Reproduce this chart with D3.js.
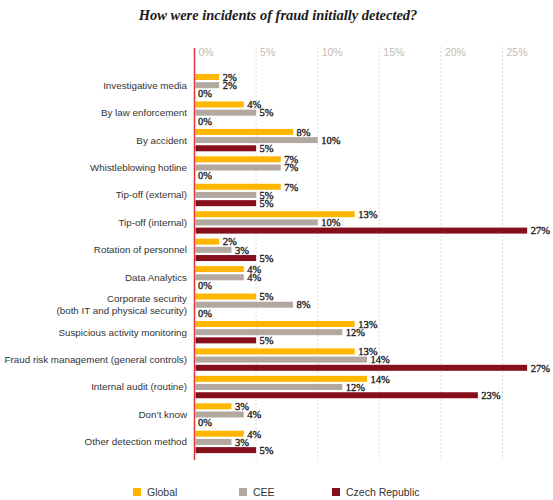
<!DOCTYPE html>
<html>
<head>
<meta charset="utf-8">
<script src="https://cdn.jsdelivr.net/npm/d3@7/dist/d3.min.js"></script>
<style>
  html, body { margin: 0; padding: 0; background: #fff; }
  svg { display: block; }
</style>
</head>
<body>
<svg id="chart" width="553" height="500"></svg>
<script>
const title = "How were incidents of fraud initially detected?";
const categories = [
  "Investigative media",
  "By law enforcement",
  "By accident",
  "Whistleblowing hotline",
  "Tip-off (external)",
  "Tip-off (internal)",
  "Rotation of personnel",
  "Data Analytics",
  "Corporate security|(both IT and physical security)",
  "Suspicious activity monitoring",
  "Fraud risk management (general controls)",
  "Internal audit (routine)",
  "Don’t know",
  "Other detection method"
];
const seriesNames = ["Global", "CEE", "Czech Republic"];
const globalValues = [2, 4, 8, 7, 7, 13, 2, 4, 5, 13, 13, 14, 3, 4];
const ceeValues    = [2, 5, 10, 7, 5, 10, 3, 4, 8, 12, 14, 12, 4, 3];
const czechValues  = [0, 0, 5, 0, 5, 27, 5, 0, 0, 5, 27, 23, 0, 5];
const tickValues = [0, 5, 10, 15, 20, 25];
const colors = ["#FFB600", "#B3A8A0", "#85101C"];

const seriesValues = [globalValues, ceeValues, czechValues];
const svg = d3.select("#chart");

const x = d3.scaleLinear().domain([0, 25]).range([194.5, 502.5]);
const y = d3.scaleBand().domain(categories).range([74, 74 + 14 * 27.44]).paddingInner(0).paddingOuter(0);
const ys = d3.scaleBand().domain(seriesNames).range([0, 22.4]).paddingInner(0.268).paddingOuter(0);

// Title
svg.append("text")
  .attr("x", 278).attr("y", 20)
  .attr("text-anchor", "middle")
  .attr("font-family", "Liberation Serif, serif")
  .attr("font-style", "italic")
  .attr("font-weight", "bold")
  .attr("font-size", 14.5)
  .attr("fill", "#1a1a1a")
  .text(title);

// Gridlines and ticks
const grid = svg.append("g");
grid.selectAll("line").data(tickValues.filter(d => d > 0)).join("line")
  .attr("x1", d => x(d)).attr("x2", d => x(d))
  .attr("y1", 47).attr("y2", 460)
  .attr("stroke", "#dcdcdc").attr("stroke-width", 1)
  .attr("stroke-dasharray", "2,2");
grid.selectAll("text").data(tickValues).join("text")
  .attr("x", d => x(d) + 4).attr("y", 56)
  .attr("font-family", "Liberation Sans, Arial, sans-serif")
  .attr("font-size", 10.5)
  .attr("fill", "#c4bbb5")
  .text(d => d + "%");

// Bars
const groups = svg.append("g").selectAll("g").data(categories).join("g")
  .attr("transform", d => `translate(0,${y(d)})`);

groups.each(function(cat, i) {
  const g = d3.select(this);
  const data = seriesNames.map((s, j) => ({ s, j, v: seriesValues[j][i] }));
  g.selectAll("rect").data(data.filter(d => d.v > 0)).join("rect")
    .attr("x", x(0) + 1)
    .attr("y", d => ys(d.s))
    .attr("width", d => x(d.v) - x(0) - 1)
    .attr("height", ys.bandwidth())
    .attr("fill", d => colors[d.j]);
  g.selectAll("text.val").data(data).join("text")
    .attr("class", "val")
    .attr("x", d => x(d.v) + 3.5)
    .attr("y", d => ys(d.s) + ys.bandwidth() / 2)
    .attr("dy", "0.36em")
    .attr("font-family", "Liberation Serif, serif")
    .attr("font-size", 10.5)
    .attr("fill", "#222")
    .attr("stroke", "#222")
    .attr("stroke-width", 0.35)
    .text(d => d.v + "%");
  // category label
  const lines = cat.split("|");
  const cy = ys("CEE") + ys.bandwidth() / 2;
  const lab = g.append("text")
    .attr("x", 187)
    .attr("text-anchor", "end")
    .attr("font-family", "Liberation Sans, Arial, sans-serif")
    .attr("font-size", 9.8)
    .attr("fill", "#333");
  lines.forEach((ln, k) => {
    lab.append("tspan")
      .attr("x", 187)
      .attr("y", cy + (k - (lines.length - 1) / 2) * 12.5)
      .attr("dy", "0.35em")
      .text(ln);
  });
});

// Axis line
svg.append("line")
  .attr("x1", x(0)).attr("x2", x(0))
  .attr("y1", 48).attr("y2", 460)
  .attr("stroke", "#D9363E").attr("stroke-width", 1.5);

// Legend
const legendX = [133, 239, 332];
const legend = svg.append("g").selectAll("g").data(seriesNames).join("g")
  .attr("transform", (d, i) => `translate(${legendX[i]},488)`);
legend.append("rect").attr("width", 8).attr("height", 8).attr("fill", (d, i) => colors[i]);
legend.append("text")
  .attr("x", 14).attr("y", 4).attr("dy", "0.35em")
  .attr("font-family", "Liberation Sans, Arial, sans-serif")
  .attr("font-size", 10.5)
  .attr("fill", "#333")
  .text(d => d);
</script>
</body>
</html>
